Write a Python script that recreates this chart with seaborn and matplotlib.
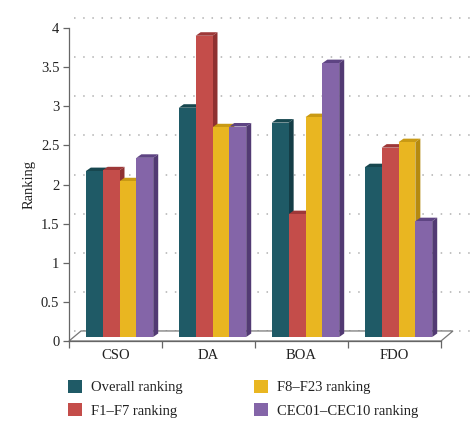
import numpy as np
import pandas as pd
import matplotlib
matplotlib.use("Agg")
import matplotlib.pyplot as plt
from matplotlib.patches import Polygon, Patch
from matplotlib.transforms import ScaledTranslation
import seaborn as sns

categories = ["CSO", "DA", "BOA", "FDO"]
series = ["Overall ranking", "F1–F7 ranking", "F8–F23 ranking", "CEC01–CEC10 ranking"]
overall = [2.12, 2.93, 2.74, 2.17]
f1_f7 = [2.13, 3.85, 1.57, 2.42]
f8_f23 = [1.99, 2.68, 2.81, 2.49]
cec = [2.29, 2.69, 3.50, 1.48]
yticks = [0, 0.5, 1, 1.5, 2, 2.5, 3, 3.5, 4]
ytick_labels = ["0", "0.5", "1", "1.5", "2", "2.5", "3", "3.5", "4"]

front_colors = ["#1f5a66", "#c44d4a", "#e9b621", "#8465a8"]
side_colors = ["#143d46", "#8f3131", "#b68a0f", "#523a73"]
top_colors = ["#17474f", "#9e3838", "#c99a14", "#5e4483"]

rows = []
for s, vals in zip(series, [overall, f1_f7, f8_f23, cec]):
    for c, v in zip(categories, vals):
        rows.append({"Algorithm": c, "Series": s, "Ranking": v})
df = pd.DataFrame(rows)

sns.set_theme(style="white")
plt.rcParams["font.family"] = ["Liberation Serif", "DejaVu Serif"]

fig = plt.figure(figsize=(4.74, 4.34), dpi=100)
ax = fig.add_axes([69 / 474, (434 - 341) / 434, 372 / 474, 313 / 434])
ax.set_facecolor("none")

sns.barplot(data=df, x="Algorithm", y="Ranking", hue="Series", order=categories,
            hue_order=series, palette=front_colors, width=0.725, gap=0,
            saturation=1, errorbar=None, ax=ax, legend=False, zorder=3)

ax.set_xlim(-0.5, 3.5)
ax.set_ylim(0, 4)

# pixel offsets (dpi=100 -> 1 px = 0.01 inch)
def shift(dx_px, dy_px):
    return ax.transData + ScaledTranslation(dx_px / 100, dy_px / 100, fig.dpi_scale_trans)

# Back wall dotted gridlines
for yv in yticks:
    ax.plot([-0.565, 3.72], [yv, yv], transform=shift(11, 10), color="#b0b0b0",
            linestyle=(0, (1, 5)), linewidth=1.1, clip_on=False, zorder=1)

# Floor parallelogram
x0, x1 = -0.5, 3.5
ddx_floor = 12 / 93.0
ddy_floor = 10 / 78.0
floor = Polygon([(x0, 0), (x1, 0), (x1 + ddx_floor, ddy_floor), (x0 + ddx_floor, ddy_floor)],
                closed=True, facecolor="white", edgecolor="#777777", linewidth=0.9,
                clip_on=False, zorder=2)
ax.add_patch(floor)

# 3D faces for bars
bar_shift = shift(4, 4)
depth_x = 5 / 93.0
depth_y = 3.5 / 78.0
patches = [p for p in ax.patches if p is not floor]
for i, p in enumerate(patches):
    hue_idx = i // len(categories)
    x = p.get_x()
    w = p.get_width()
    h = p.get_height()
    p.set_transform(bar_shift)
    p.set_clip_on(False)
    p.set_edgecolor("none")
    p.set_zorder(4)
    top = Polygon([(x, h), (x + w, h), (x + w + depth_x, h + depth_y), (x + depth_x, h + depth_y)],
                  closed=True, facecolor=top_colors[hue_idx], edgecolor="none",
                  transform=bar_shift, clip_on=False, zorder=3.5)
    side = Polygon([(x + w, 0), (x + w + depth_x, depth_y), (x + w + depth_x, h + depth_y), (x + w, h)],
                   closed=True, facecolor=side_colors[hue_idx], edgecolor="none",
                   transform=bar_shift, clip_on=False, zorder=3.5)
    ax.add_patch(top)
    ax.add_patch(side)

# Axes styling
for sp in ["top", "right"]:
    ax.spines[sp].set_visible(False)
for sp in ["left", "bottom"]:
    ax.spines[sp].set_visible(True)
    ax.spines[sp].set_color("#666666")
    ax.spines[sp].set_linewidth(0.9)
    ax.spines[sp].set_zorder(5)

ax.set_yticks(yticks)
ax.set_yticklabels(ytick_labels)
ax.tick_params(axis="y", which="major", direction="out", length=4, width=0.9,
               color="#666666", labelsize=10.5, labelcolor="#222222", pad=3, left=True)
ax.set_xticks(range(len(categories)))
ax.set_xticklabels(categories)
ax.tick_params(axis="x", which="major", length=0, labelsize=10.5, labelcolor="#222222", pad=6)
ax.set_xticks([-0.5, 0.5, 1.5, 2.5, 3.5], minor=True)
ax.tick_params(axis="x", which="minor", direction="out", length=5, width=0.9,
               color="#666666", bottom=True)
ax.set_xlabel("")
ax.set_ylabel("Ranking", fontsize=10.5, color="#222222", labelpad=4)

# Legend
handles = [Patch(facecolor=c, edgecolor="none") for c in front_colors]
fig.legend(handles, series, loc="upper left", bbox_to_anchor=(62 / 474, 1 - 374 / 434),
           ncol=2, frameon=False, fontsize=10.5, handlelength=1.0, handleheight=1.0,
           handletextpad=0.6, columnspacing=4.85, labelspacing=0.6, borderaxespad=0,
           labelcolor="#222222")

fig.savefig("out.png", dpi=100)
